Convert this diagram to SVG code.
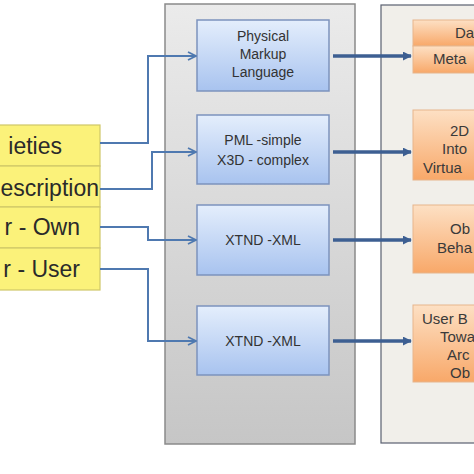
<svg xmlns="http://www.w3.org/2000/svg" width="474" height="474" viewBox="0 0 474 474">
<defs>
<linearGradient id="gGray" x1="0" y1="0" x2="0" y2="1"><stop offset="0" stop-color="#ebebeb"/><stop offset="1" stop-color="#c6c6c6"/></linearGradient>
<linearGradient id="gBlue" x1="0" y1="0" x2="0" y2="1"><stop offset="0" stop-color="#e4eefc"/><stop offset="1" stop-color="#a8c3ef"/></linearGradient>
<linearGradient id="gOrange" x1="0" y1="0" x2="0" y2="1"><stop offset="0" stop-color="#fde0c4"/><stop offset="1" stop-color="#f8a869"/></linearGradient>
<marker id="aOpen" viewBox="0 0 10 10" refX="9" refY="5" markerWidth="10" markerHeight="10" markerUnits="userSpaceOnUse" orient="auto">
<path d="M1,1 L9,5 L1,9" fill="none" stroke="#4f79b0" stroke-width="1.8"/>
</marker>
<marker id="aFill" viewBox="0 0 10 10" refX="9" refY="5" markerWidth="9" markerHeight="9" markerUnits="userSpaceOnUse" orient="auto">
<path d="M0,0 L10,5 L0,10 Z" fill="#3d5f92"/>
</marker>
</defs>
<style>
.yel{fill:#fbf27a;stroke:#cfc768;stroke-width:1.2}
.blu{fill:url(#gBlue);stroke:#7c93bd;stroke-width:1.5}
.org{fill:url(#gOrange);stroke:#e7b58c;stroke-width:1}
.ty{font-family:"Liberation Sans",Arial,sans-serif;font-size:23px;fill:#2a2a2a}
.tb{font-family:"Liberation Sans",Arial,sans-serif;font-size:14px;fill:#333;text-anchor:middle}
.to{font-family:"Liberation Sans",Arial,sans-serif;font-size:15px;fill:#3a3a3a}
.c1{fill:none;stroke:#4f79b0;stroke-width:2}
.c2{fill:none;stroke:#3d5f92;stroke-width:3.5}
</style>
<rect x="0" y="0" width="474" height="474" fill="#ffffff"/>
<g id="panel-middle"><rect x="165" y="4" width="190" height="440" fill="url(#gGray)" stroke="#8a8a8a" stroke-width="1.5"/></g>
<g id="panel-right"><rect x="381" y="5" width="100" height="438" fill="#f1efea" stroke="#5a6070" stroke-width="1.2"/></g>
<g id="y1"><rect class="yel" x="-10" y="125" width="110" height="41"/><text class="ty" x="62" y="154" text-anchor="end">ieties</text></g>
<g id="y2"><rect class="yel" x="-10" y="166" width="110" height="41"/><text class="ty" x="99" y="196" text-anchor="end">escription</text></g>
<g id="y3"><rect class="yel" x="-10" y="207" width="110" height="41"/><text class="ty" x="80" y="235" text-anchor="end">r - Own</text></g>
<g id="y4"><rect class="yel" x="-10" y="248" width="110" height="42"/><text class="ty" x="80" y="277" text-anchor="end">r - User</text></g>
<g id="b1"><rect class="blu" x="197" y="20" width="132" height="71"/><text class="tb" x="263" y="41">Physical</text><text class="tb" x="263" y="59">Markup</text><text class="tb" x="263" y="77">Language</text></g>
<g id="b2"><rect class="blu" x="197" y="115" width="132" height="69"/><text class="tb" x="263" y="145" font-size="15">PML -simple</text><text class="tb" x="263" y="165" font-size="15">X3D - complex</text></g>
<g id="b3"><rect class="blu" x="197" y="205" width="132" height="70"/><text class="tb" x="263" y="245" font-size="15">XTND -XML</text></g>
<g id="b4"><rect class="blu" x="197" y="306" width="132" height="69"/><text class="tb" x="263" y="346" font-size="15">XTND -XML</text></g>
<g id="o1"><rect class="org" x="413" y="20" width="70" height="26"/><rect class="org" x="413" y="46" width="70" height="27"/><text class="to" x="455" y="38">Da</text><text class="to" x="433" y="64">Meta</text></g>
<g id="o2"><rect class="org" x="413" y="110" width="70" height="70"/><text class="to" x="450" y="136">2D</text><text class="to" x="442" y="154">Into</text><text class="to" x="423" y="173">Virtua</text></g>
<g id="o3"><rect class="org" x="413" y="205" width="70" height="68"/><text class="to" x="450" y="234">Ob</text><text class="to" x="437" y="253">Beha</text></g>
<g id="o4"><rect class="org" x="413" y="305" width="70" height="77"/><text class="to" x="422" y="324">User B</text><text class="to" x="440" y="342">Towa</text><text class="to" x="447" y="360">Arc</text><text class="to" x="450" y="378">Ob</text></g>
<g id="connectors">
<path class="c1" d="M100,143 H148 V56 H196" marker-end="url(#aOpen)"/>
<path class="c1" d="M100,189 H152 V152 H196" marker-end="url(#aOpen)"/>
<path class="c1" d="M100,227 H148 V240 H196" marker-end="url(#aOpen)"/>
<path class="c1" d="M100,269 H148 V341 H196" marker-end="url(#aOpen)"/>
<path class="c2" d="M333,56 H411" marker-end="url(#aFill)"/>
<path class="c2" d="M333,152 H411" marker-end="url(#aFill)"/>
<path class="c2" d="M333,240 H411" marker-end="url(#aFill)"/>
<path class="c2" d="M333,341 H411" marker-end="url(#aFill)"/>
</g>
</svg>
